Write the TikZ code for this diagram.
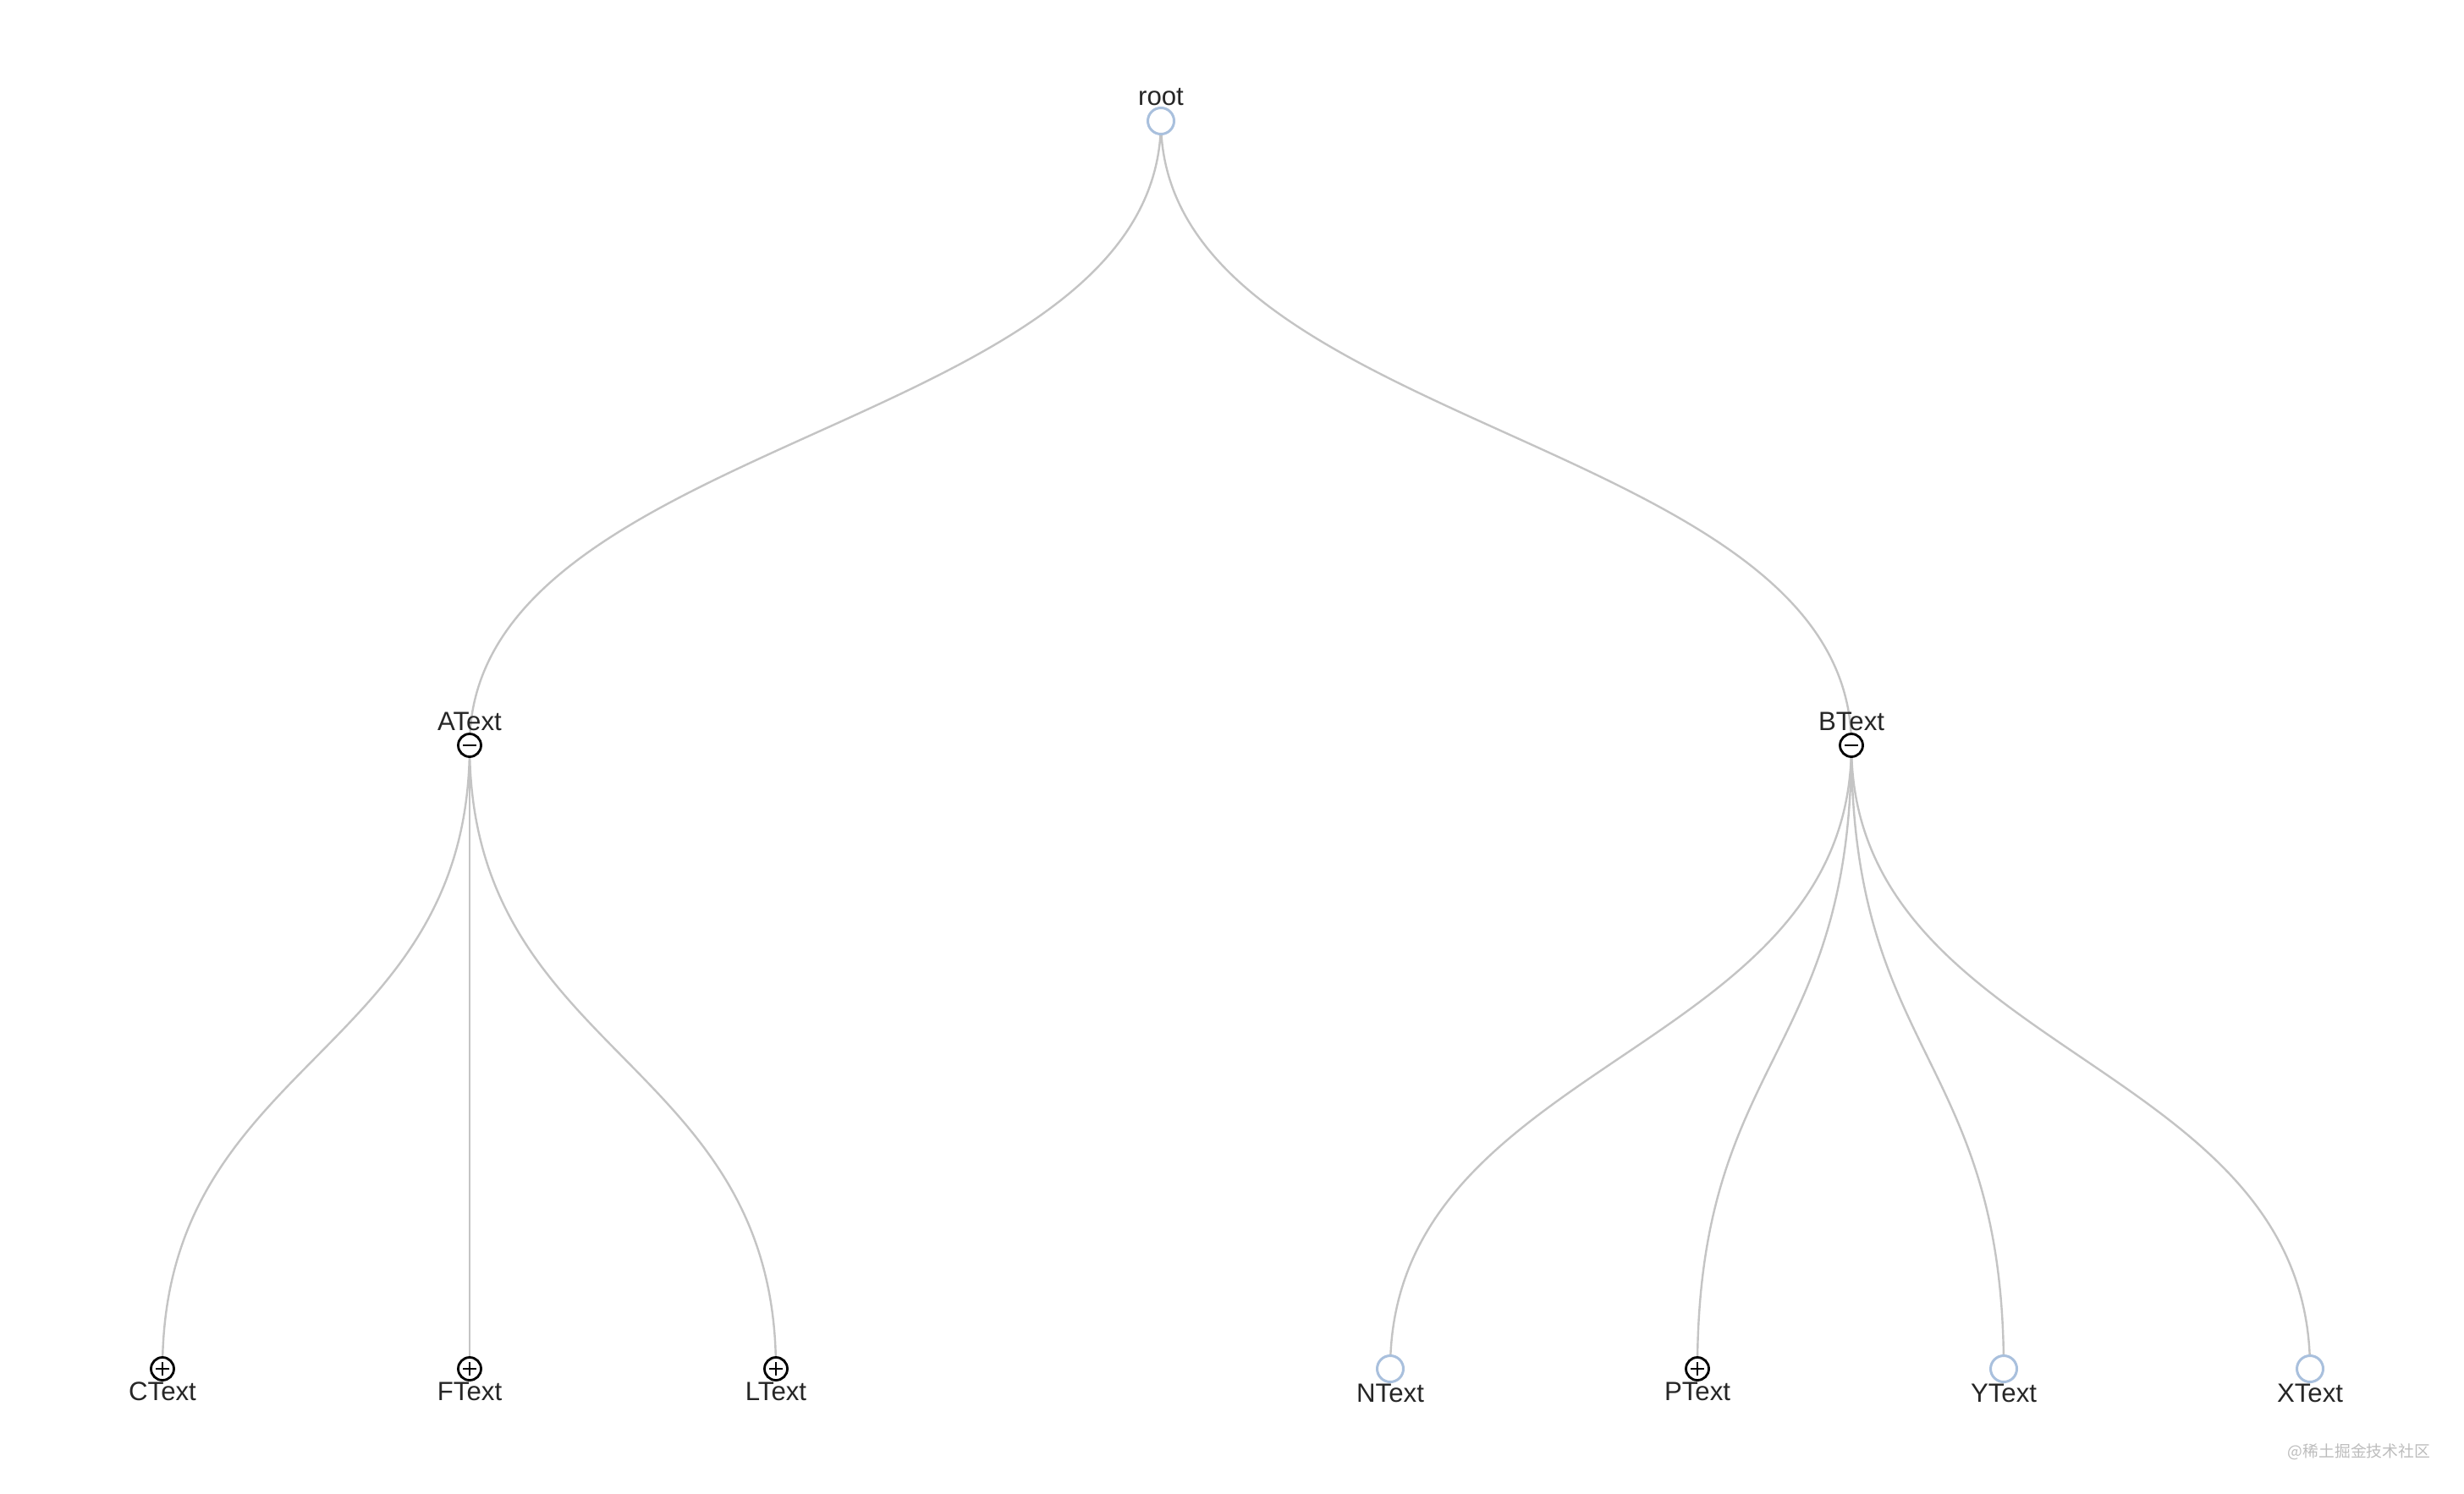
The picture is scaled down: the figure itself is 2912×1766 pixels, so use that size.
\documentclass[tikz,border=0pt]{standalone}
\usepackage{fontspec}
\setmainfont{Liberation Sans}
\newfontfamily\cjk{Noto Sans CJK SC}
\usetikzlibrary{backgrounds}
\definecolor{leafblue}{HTML}{A9C0DD}
\definecolor{linkgray}{HTML}{C4C4C4}
\definecolor{txt}{HTML}{262626}
\definecolor{wm}{HTML}{BDBDBD}
\tikzset{
  leafnode/.style={circle, draw=leafblue, fill=white, line width=0.75pt, minimum size=7.75pt, inner sep=0pt},
  signnode/.style={circle, draw=black, fill=white, line width=0.7pt, minimum size=6.75pt, inner sep=0pt},
  minusnode/.style={signnode, path picture={\draw[black,line width=0.65pt] ([xshift=-1.9pt]path picture bounding box.center) -- ([xshift=1.9pt]path picture bounding box.center);}},
  plusnode/.style={signnode, path picture={\draw[black,line width=0.65pt] ([xshift=-1.9pt]path picture bounding box.center) -- ([xshift=1.9pt]path picture bounding box.center) ([yshift=-1.9pt]path picture bounding box.center) -- ([yshift=1.9pt]path picture bounding box.center);}},
  lbl/.style={inner sep=0pt, anchor=base, text=txt, font=\fontsize{7.8}{9}\selectfont},
  link/.style={draw=linkgray, line width=0.6pt},
}
\begin{document}
\begin{tikzpicture}[x=0.25pt,y=-0.25pt]
\useasboundingbox (0,0) rectangle (2912,1766);
% nodes
\node[leafnode]  (r) at (1372,143) {};
\node[minusnode] (a) at (555,881) {};
\node[minusnode] (b) at (2188,881) {};
\node[plusnode]  (c) at (192,1618) {};
\node[plusnode]  (f) at (555,1618) {};
\node[plusnode]  (l) at (917,1618) {};
\node[leafnode]  (n) at (1643,1618) {};
\node[plusnode]  (p) at (2006,1618) {};
\node[leafnode]  (y) at (2368,1618) {};
\node[leafnode]  (x) at (2730,1618) {};
% labels
\node[lbl] (rt) at ([yshift=4.5pt]r.center) {root};
\node[lbl] (at) at ([yshift=4.3pt]a.center) {AText};
\node[lbl] (bt) at ([yshift=4.3pt]b.center) {BText};
\node[lbl] (ct) at ([yshift=-9.25pt]c.center) {CText};
\node[lbl] (ft) at ([yshift=-9.25pt]f.center) {FText};
\node[lbl] (lt) at ([yshift=-9.25pt]l.center) {LText};
\node[lbl] (nt) at ([yshift=-9.75pt]n.center) {NText};
\node[lbl] (pt) at ([yshift=-9.25pt]p.center) {PText};
\node[lbl] (yt) at ([yshift=-9.75pt]y.center) {YText};
\node[lbl] (xt) at ([yshift=-9.75pt]x.center) {XText};
% links
\begin{pgfonlayer}{background}
\fill[white] (0,0) rectangle (2912,1766);
\draw[link] (r.center) .. controls +(0,369) and +(0,-369) .. (a.center);
\draw[link] (r.center) .. controls +(0,369) and +(0,-369) .. (b.center);
\draw[link] (a.center) .. controls +(0,369) and +(0,-369) .. (c.center);
\draw[link] (a.center) -- (f.center);
\draw[link] (a.center) .. controls +(0,369) and +(0,-369) .. (l.center);
\draw[link] (b.center) .. controls +(0,369) and +(0,-369) .. (n.center);
\draw[link] (b.center) .. controls +(0,369) and +(0,-369) .. (p.center);
\draw[link] (b.center) .. controls +(0,369) and +(0,-369) .. (y.center);
\draw[link] (b.center) .. controls +(0,369) and +(0,-369) .. (x.center);
\end{pgfonlayer}
% watermark
\node[inner sep=0pt, text=wm, font=\cjk\fontsize{4.7}{6}\selectfont] (wmk) at (2788,1716) {@稀土掘金技术社区};
\end{tikzpicture}
\end{document}
